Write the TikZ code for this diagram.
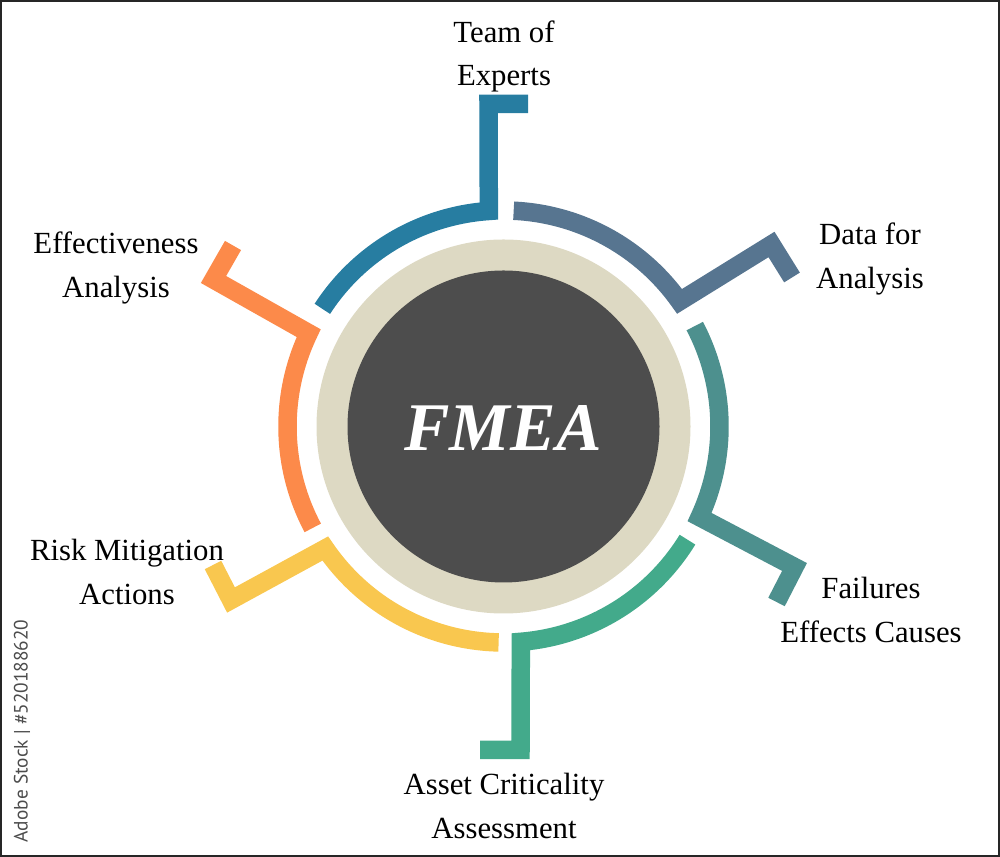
\documentclass[tikz,border=0pt]{standalone}
\usepackage{fontspec}
\setmainfont{Liberation Serif}
\newfontfamily\stockfont{PT Sans}
\usepackage{xcolor}
\usetikzlibrary{calc}
\definecolor{blueseg}{HTML}{277DA1}
\definecolor{slateseg}{HTML}{577590}
\definecolor{tealseg}{HTML}{4D908E}
\definecolor{greenseg}{HTML}{43AA8B}
\definecolor{yellowseg}{HTML}{F9C74F}
\definecolor{orangeseg}{HTML}{FC8A4A}
\definecolor{ringcol}{HTML}{DDD9C3}
\definecolor{corecol}{HTML}{4D4D4D}
\tikzset{
  seglabel/.style={align=center,text=black,font=\fontsize{17.5}{24.5}\selectfont},
  segline/.style={line width=0.37cm,miter limit=10}
}

\begin{document}
\begin{tikzpicture}[x=0.02cm,y=0.02cm]
  \useasboundingbox (0,0) rectangle (1000,857);
  \def\cx{503.5};
  \def\cy{430.5};
  \def\r{216};

  %frame
  \draw[line width=0.07cm,black!85] (0,0) rectangle (1000,857);

  %centre
  \fill[ringcol] (\cx,\cy) circle[radius=187];
  \fill[corecol] (\cx,\cy) circle[radius=156];
  \node[text=white,font=\fontsize{38.8}{40}\selectfont\bfseries\itshape] (fmea) at (503,429) {FMEA};

  %segments
  \foreach \col/\sa/\ea/\bx/\by/\ex/\ey in {
      blueseg/147/93.9/488.5/753/528/753,
      slateseg/87.3/35.4/771.5/612.5/792/579.5,
      tealseg/27.7/-24.8/794.5/290/776.5/255,
      greenseg/-31.6/-85.4/520.5/107/480/107,
      yellowseg/-91.3/-145.6/231/257/213/292,
      orangeseg/-152/-205.6/213.5/577.5/233/611.5}{
    \draw[\col,segline] ($(\cx,\cy)+(\sa:\r)$) arc[start angle=\sa,end angle=\ea,radius=\r]
        -- (\bx,\by) -- (\ex,\ey);
  }

  %labels
  \node[seglabel] (team) at (504,801) {Team of\\Experts};
  \node[seglabel] (data) at (870,598) {Data for\\Analysis};
  \node[seglabel] (fail) at (871,247) {Failures\\Effects Causes};
  \node[seglabel] (asset) at (504,51) {Asset Criticality\\Assessment};
  \node[seglabel] (risk) at (127,285) {Risk Mitigation\\Actions};
  \node[seglabel] (effect) at (116,589) {Effectiveness\\Analysis};

  %side text
  \node[rotate=90,text=black!70,font=\stockfont\fontsize{11}{12}\selectfont] (stock) at (22,126) {Adobe Stock | \#520188620};
\end{tikzpicture}
\end{document}
